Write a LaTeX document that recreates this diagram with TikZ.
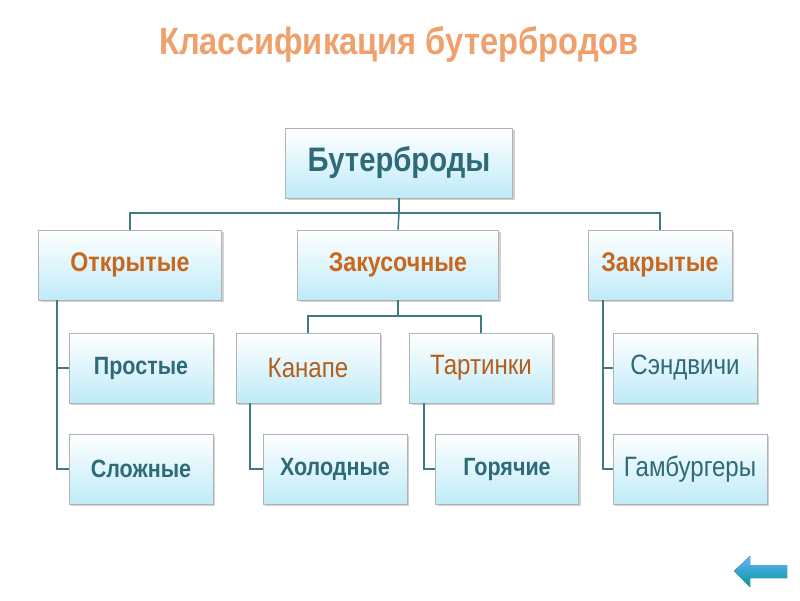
\documentclass[tikz,border=0pt]{standalone}
\usepackage{fontspec}
\setmainfont{Liberation Sans}
\newfontfamily\nar[FakeStretch=0.86]{Liberation Sans}
\usetikzlibrary{shadows}
\definecolor{org}{HTML}{C8681E}
\definecolor{tit}{HTML}{EFA06C}
\definecolor{teal}{HTML}{2F6A78}
\definecolor{ln}{HTML}{3E7A84}
\definecolor{cy}{HTML}{BEEBF8}
\begin{document}
\begin{tikzpicture}[x=1pt,y=-1pt,
 bx/.style={draw=gray!60,line width=0.6pt,top color=white,bottom color=cy,minimum height=70pt,inner sep=0pt,drop shadow={shadow xshift=2pt,shadow yshift=-2pt,opacity=0.35},font=\nar\bfseries\fontsize{25}{25}\selectfont},
 lv1/.style={bx,text=org,font=\nar\bfseries\fontsize{27}{27}\selectfont},
 lv2/.style={bx,text=teal},
 lv2o/.style={bx,text=org!90!black,font=\nar\fontsize{28}{28}\selectfont},
 lv2t/.style={bx,text=teal,font=\nar\fontsize{28}{28}\selectfont},
 cn/.style={draw=ln,line width=1.5pt}]
\useasboundingbox (0,0) rectangle (800,600);
\fill[white] (0,0) rectangle (800,600);
\node[text=tit,font=\nar\bfseries\fontsize{38}{38}\selectfont] (title) at (399,45) {Классификация бутербродов};
\node[lv2,minimum width=227pt,font=\nar\bfseries\fontsize{34}{34}\selectfont] (root) at (399,163) {Бутерброды};
\node[lv1,minimum width=183pt] (o) at (130,265) {Открытые};
\node[lv1,minimum width=201pt] (z) at (398,265) {Закусочные};
\node[lv1,minimum width=144pt] (c) at (660,265) {Закрытые};
\node[lv2,minimum width=144pt] (p) at (141,368) {Простые};
\node[lv2,minimum width=144pt] (s) at (141,469) {Сложные};
\node[lv2o,minimum width=144pt] (k) at (308,368) {Канапе};
\node[lv2o,minimum width=143pt] (t) at (481,368) {Тартинки};
\node[lv2,minimum width=144pt] (h) at (335,469) {Холодные};
\node[lv2,minimum width=143pt] (g) at (507,469) {Горячие};
\node[lv2t,minimum width=144pt] (sd) at (685,368) {Сэндвичи};
\node[lv2t,minimum width=154pt] (gb) at (690,469) {Гамбургеры};
\draw[cn] (root.south) -- (399,213);
\draw[cn] (o.north) |- (399,213) -| (c.north);
\draw[cn] (399,213) -- (z.north);
\draw[cn] (z.south) -- (398,316);
\draw[cn] (k.north) |- (398,316) -| (t.north);
\draw[cn] (57,300) |- (p.west);
\draw[cn] (57,300) |- (s.west);
\draw[cn] (250,403) |- (h.west);
\draw[cn] (424,403) |- (g.west);
\draw[cn] (603,300) |- (sd.west);
\draw[cn] (603,300) |- (gb.west);
\fill[top color=cyan!50!blue!60,bottom color=cyan!60!black] (734,571) -- (750,556) -- (750,565) -- (787,565) -- (787,578) -- (750,578) -- (750,587) -- cycle;
\end{tikzpicture}
\end{document}
